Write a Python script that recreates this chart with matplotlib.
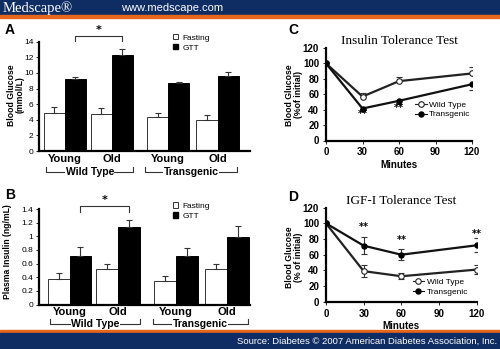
import numpy as np
import matplotlib
matplotlib.use("Agg")
import matplotlib.pyplot as plt
from matplotlib.patches import Rectangle, Patch
import matplotlib.transforms as mtrans

# ---------------- data ----------------
categories = ["Young", "Old", "Young", "Old"]
groups_names = ["Wild Type", "Transgenic"]

glucose_fasting = [4.9, 4.68, 4.33, 4.03]
glucose_fasting_err = [0.7, 0.8, 0.53, 0.57]
glucose_gtt = [9.19, 12.25, 8.67, 9.58]
glucose_gtt_err = [0.26, 0.85, 0.21, 0.49]

insulin_fasting = [0.375, 0.526, 0.35, 0.52]
insulin_fasting_err = [0.092, 0.068, 0.068, 0.074]
insulin_gtt = [0.71, 1.129, 0.71, 0.983]
insulin_gtt_err = [0.137, 0.107, 0.112, 0.17]

minutes = [0, 30, 60, 120]
itt_wt = [100, 57, 77, 87]
itt_wt_err = [0, 4.5, 6, 9]
itt_tg = [100, 41.5, 51.5, 73]
itt_tg_err = [0, 1.5, 4.5, 7]

igf_wt = [100, 39, 32.5, 41]
igf_wt_err = [0, 8, 4, 5.5]
igf_tg = [100, 71.5, 60, 72]
igf_tg_err = [0, 11, 7, 9]

NAVY = "#0f2d63"
ORANGE = "#e8661c"

W, H = 500, 349
fig = plt.figure(figsize=(5, 3.49), dpi=100)
fig.patch.set_facecolor("white")


def fx(px):
    return px / W


def fy(py):
    return 1 - py / H


def axes_px(l, t, r, b):
    return fig.add_axes([fx(l), fy(b), fx(r) - fx(l), (b - t) / H])


# header / footer bands
fig.add_artist(Rectangle((0, fy(15)), 1, 15 / H, transform=fig.transFigure, color=NAVY, zorder=0))
fig.add_artist(Rectangle((0, fy(17.5)), 1, 2.5 / H, transform=fig.transFigure, color=ORANGE, zorder=0))
fig.add_artist(Rectangle((0, fy(332.5)), 1, 2.5 / H, transform=fig.transFigure, color=ORANGE, zorder=0))
fig.add_artist(Rectangle((0, 0), 1, 16.5 / H, transform=fig.transFigure, color=NAVY, zorder=0))
fig.text(fx(3), fy(8), "Medscape®", color="white", fontsize=10.5, family="Liberation Serif",
         va="center", ha="left")
fig.text(fx(172), fy(8), "www.medscape.com", color="white", fontsize=8, family="Liberation Sans",
         va="center", ha="center")
fig.text(fx(497), fy(341), "Source: Diabetes © 2007 American Diabetes Association, Inc.",
         color="white", fontsize=6.8, family="Liberation Sans", va="center", ha="right")

pos = np.array([0, 1, 2.2, 3.25])
bw = 0.45


def bar_panel(ax, fasting, ferr, gtt, gerr, ylim, yticks, yticklabels, xlim, brk_y, tick_up, sig_y, sig_down):
    ax.bar(pos - bw / 2, fasting, bw, color="white", edgecolor="#333333", linewidth=0.7, zorder=2)
    ax.bar(pos + bw / 2, gtt, bw, color="black", edgecolor="black", linewidth=0.7, zorder=2)
    ax.errorbar(pos - bw / 2, fasting, yerr=[np.zeros(4), ferr], fmt="none", ecolor="#333333",
                elinewidth=0.8, capsize=2, capthick=0.8, zorder=3)
    ax.errorbar(pos + bw / 2, gtt, yerr=[np.zeros(4), gerr], fmt="none", ecolor="#333333",
                elinewidth=0.8, capsize=2, capthick=0.8, zorder=3)
    ax.set_xlim(*xlim)
    ax.set_ylim(*ylim)
    ax.set_yticks(yticks)
    ax.set_yticklabels(yticklabels, fontsize=6, family="Liberation Sans")
    ax.set_xticks(pos)
    ax.set_xticklabels(categories, fontsize=8, fontweight="bold", family="Liberation Sans")
    ax.tick_params(axis="x", length=0, pad=2)
    ax.tick_params(axis="y", length=2, width=0.6, pad=2)
    for s in ["top", "right"]:
        ax.spines[s].set_visible(False)
    ax.spines["left"].set_linewidth(1.6)
    ax.spines["bottom"].set_linewidth(1.6)
    trans = mtrans.blended_transform_factory(ax.transData, ax.transAxes)
    # group brackets
    for (x0, x1), name in zip([(-0.4, 1.46), (1.71, 3.67)], groups_names):
        ax.plot([x0, x0, x1, x1], [brk_y + tick_up, brk_y, brk_y, brk_y + tick_up], color="#333333",
                lw=0.8, transform=trans, clip_on=False)
        ax.text((x0 + x1) / 2, brk_y, name, transform=trans, ha="center", va="center",
                fontsize=7.5, fontweight="bold", family="Liberation Sans",
                bbox=dict(facecolor="white", edgecolor="none", pad=0.2))
    # significance bracket
    sx0, sx1 = pos[0] + bw / 2, pos[1] + bw / 2
    ax.plot([sx0, sx0, sx1, sx1], [sig_y - sig_down, sig_y, sig_y, sig_y - sig_down], color="#333333",
            lw=0.8, transform=trans, clip_on=False)
    ax.text((sx0 + sx1) / 2, sig_y + 0.01, "*", transform=trans, ha="center", va="bottom",
            fontsize=8, fontweight="bold")
    handles = [Patch(facecolor="white", edgecolor="#333333", linewidth=0.7, label="Fasting"),
               Patch(facecolor="black", edgecolor="black", label="GTT")]
    ax.legend(handles=handles, loc="upper left", bbox_to_anchor=(0.635, 1.07), frameon=False,
              handlelength=0.6, handleheight=0.6, handletextpad=0.5,
              labelspacing=0.3, borderpad=0, borderaxespad=0, prop={"family": "Liberation Sans", "size": 6})


# Panel A
axA = axes_px(39, 41.7, 250, 151)
bar_panel(axA, glucose_fasting, glucose_fasting_err, glucose_gtt, glucose_gtt_err,
          (0, 14), np.arange(0, 15, 2), [str(v) for v in range(0, 15, 2)], (-0.55, 3.94),
          -0.195, 0.045, 1.055, 0.05)
fig.text(fx(5), fy(30), "A", fontsize=10, fontweight="bold", family="Liberation Sans", va="center")
fig.text(fx(16), fy(95), "Blood Glucose\n(mmol/L)", rotation=90, fontsize=6.2, fontweight="bold",
         family="Liberation Sans", ha="center", va="center", linespacing=1.0)

# Panel B
axB = axes_px(39, 209, 250, 304.5)
bar_panel(axB, insulin_fasting, insulin_fasting_err, insulin_gtt, insulin_gtt_err,
          (0, 1.4), np.arange(0, 1.41, 0.2), ["0", "0.2", "0.4", "0.6", "0.8", "1", "1.2", "1.4"],
          (-0.63, 3.72), -0.205, 0.053, 1.035, 0.063)
fig.text(fx(5), fy(195), "B", fontsize=10, fontweight="bold", family="Liberation Sans", va="center")
fig.text(fx(8), fy(252), "Plasma Insulin (ng/mL)", rotation=90, fontsize=6.2, fontweight="bold",
         family="Liberation Sans", ha="center", va="center")


def line_panel(ax, wt, wterr, tg, tgerr, one_sided, title, stars, leg_anchor):
    if one_sided:
        wt_e = [np.zeros(4), wterr]
        tg_e = [tgerr, np.zeros(4)]
    else:
        wt_e = wterr
        tg_e = tgerr
    ax.errorbar(minutes, wt, yerr=wt_e, fmt="none", ecolor="#333333", elinewidth=0.8, capsize=2,
                capthick=0.8, zorder=2)
    ax.errorbar(minutes, tg, yerr=tg_e, fmt="none", ecolor="#333333", elinewidth=0.8, capsize=2,
                capthick=0.8, zorder=2)
    ax.plot(minutes, wt, color="#222222", lw=1.6, marker="o", markersize=4, markerfacecolor="white",
            markeredgecolor="#222222", markeredgewidth=0.8, label="Wild Type", zorder=3)
    ax.plot(minutes, tg, color="#111111", lw=1.6, marker="o", markersize=3.6, markerfacecolor="black",
            markeredgecolor="black", label="Transgenic", zorder=3)
    ax.set_xlim(0, 120)
    ax.set_ylim(0, 120)
    ax.set_xticks([0, 30, 60, 90, 120])
    ax.set_yticks(range(0, 121, 20))
    for lab in ax.get_xticklabels() + ax.get_yticklabels():
        lab.set_fontsize(7)
        lab.set_fontweight("bold")
        lab.set_family("Liberation Sans")
    ax.tick_params(length=2, width=0.6, pad=3)
    for s in ["top", "right"]:
        ax.spines[s].set_visible(False)
    ax.spines["left"].set_linewidth(1.6)
    ax.spines["bottom"].set_linewidth(1.6)
    ax.set_xlabel("Minutes", fontsize=7, fontweight="bold", family="Liberation Sans", labelpad=2)
    ax.set_title(title, fontsize=9.5, family="Liberation Serif", pad=3)
    for (sx, sy) in stars:
        ax.text(sx, sy, "**", ha="center", va="center", fontsize=7, fontweight="bold")
    leg = ax.legend(loc="upper left", bbox_to_anchor=leg_anchor, frameon=False, handlelength=1.4,
                    handletextpad=0.3, labelspacing=0.25, borderpad=0, borderaxespad=0,
                    prop={"family": "Liberation Sans", "size": 6})
    for h in leg.legend_handles:
        h.set_linewidth(0.8)


# Panel C
axC = axes_px(326, 48, 472, 140.5)
line_panel(axC, itt_wt, itt_wt_err, itt_tg, itt_tg_err, True, "Insulin Tolerance Test",
           [(30, 34), (60, 42.5)], (0.61, 0.43))
fig.text(fx(288), fy(30), "C", fontsize=10, fontweight="bold", family="Liberation Sans", va="center")
fig.text(fx(294), fy(95), "Blood Glucose\n(%of initial)", rotation=90, fontsize=6.2, fontweight="bold",
         family="Liberation Sans", ha="center", va="center", linespacing=1.0)

# Panel D
axD = axes_px(326, 207.7, 476.7, 301.7)
line_panel(axD, igf_wt, igf_wt_err, igf_tg, igf_tg_err, False, "IGF-I Tolerance Test",
           [(30, 95.5), (60, 79), (120, 87)], (0.575, 0.25))
fig.text(fx(288), fy(197), "D", fontsize=10, fontweight="bold", family="Liberation Sans", va="center")
fig.text(fx(294), fy(257), "Blood Glucose\n(% of initial)", rotation=90, fontsize=6.2, fontweight="bold",
         family="Liberation Sans", ha="center", va="center", linespacing=1.0)

fig.savefig("out.png", dpi=100)
